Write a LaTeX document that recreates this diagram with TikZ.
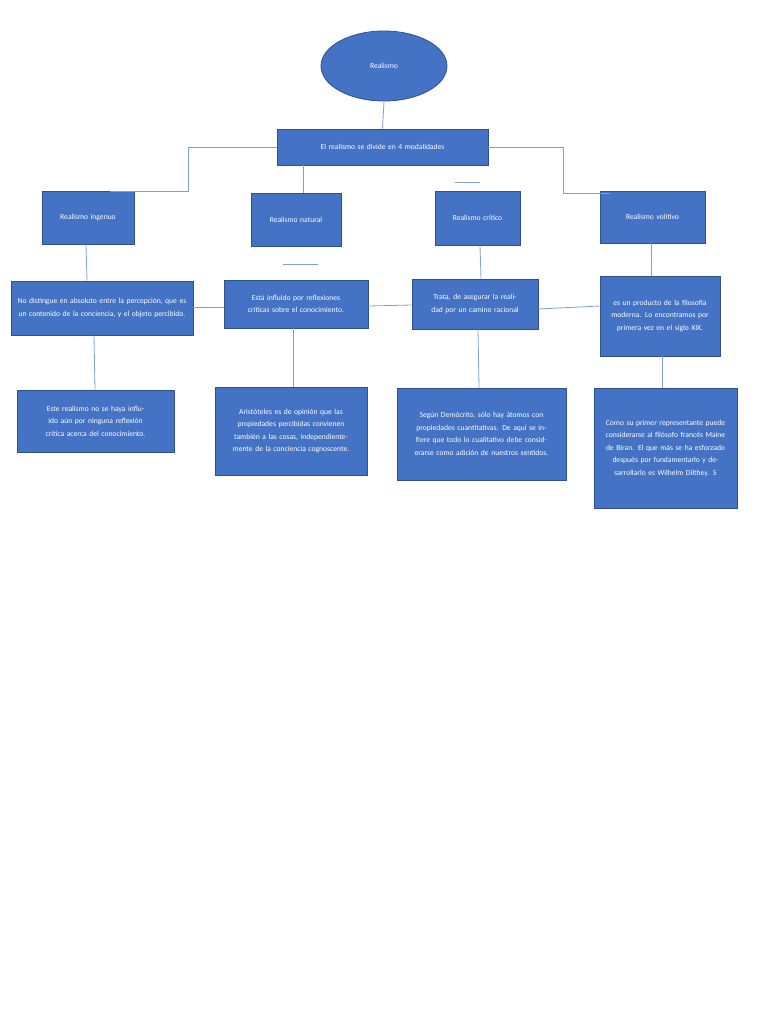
\documentclass[tikz,border=0pt]{standalone}
\usepackage{fontspec}
\setmainfont{Carlito}
\usetikzlibrary{shapes.geometric}
\definecolor{bfill}{HTML}{4472C4}
\definecolor{bdraw}{HTML}{2F528F}
\definecolor{lcol}{HTML}{7F9FD6}
\begin{document}
\begin{tikzpicture}[x=1pt,y=-1pt,
 bx/.style={draw=bdraw,fill=bfill,line width=0.8pt,text=white,font=\fontsize{7.6}{12.5}\selectfont,align=center,inner sep=2pt},
 ln/.style={draw=lcol,line width=0.8pt}]
\useasboundingbox (0,0) rectangle (768,1024);
\fill[white] (0,0) rectangle (768,1024);
\node[bx,ellipse,minimum width=126pt,minimum height=70pt] (root) at (384,66) {Realismo};
\newcommand\bb[6]{\pgfmathsetmacro\bbw{#4-#2}\pgfmathsetmacro\bbh{#5-#3}\pgfmathsetmacro\bbt{#4-#2-10}%
\node[bx,minimum width=\bbw pt,minimum height=\bbh pt,text width=\bbt pt] (#1) at ({(#2+#4)/2},{(#3+#5)/2}) {#6};}
\bb{top}{277}{129}{488}{165}{El realismo se divide en 4 modalidades}
\bb{a1}{42}{191}{134}{244}{Realismo ingenuo}
\bb{b1}{251}{193}{341}{246}{Realismo natural}
\bb{c1}{435}{191}{520}{245}{Realismo crítico}
\bb{d1}{600}{191}{705}{243}{Realismo volitivo}
\bb{a2}{11}{281}{193}{335}{No distingue en absoluto entre la percepción, que es un contenido de la conciencia, y el objeto percibido.}
\bb{b2}{224}{280}{368}{328}{Está influido por reflexiones críticas sobre el conocimiento.}
\bb{c2}{412}{279}{538}{329}{Trata, de asegurar la realidad por un camino racional}
\bb{d2}{600}{276}{720}{356}{es un producto de la filosofía moderna. Lo encontramos por primera vez en el siglo XIX.}
\bb{a3}{17}{390}{174}{452}{Este realismo no se haya influido aún por ninguna reflexión crítica acerca del conocimiento.}
\bb{b3}{215}{387}{367}{475}{Aristóteles es de opinión que las propiedades percibidas convienen también a las cosas, independientemente de la conciencia cognoscente.}
\bb{c3}{397}{388}{566}{480}{Según Demócrito, sólo hay átomos con propiedades cuantitativas. De aquí se infiere que todo lo cualitativo debe considerarse como adición de nuestros sentidos.}
\bb{d3}{594}{388}{737}{508}{Como su primer representante puede considerarse al filósofo francés Maine de Biran. El que más se ha esforzado después por fundamentarlo y desarrollarlo es Wilhelm Dilthey. S}
\coordinate (tl) at (110,191);
\coordinate (tr) at (610,193);
\draw[ln] (root.south) -- (top.north);
\draw[ln] (top.west) -- (188,147) -- (188,191) -- (tl);
\draw[ln] (top.east) -- (563,147) -- (563,193) -- (tr);
\draw[ln] (303,165) -- (b1.north-|303,0);
\draw[ln] (455,182) -- (480,182);
\draw[ln] (283,264) -- (318,264);
\draw[ln] (a1.south-|86,0) -- (a2.north-|87,0);
\draw[ln] (c1.south-|480,0) -- (c2.north-|481,0);
\draw[ln] (d1.south-|651,0) -- (d2.north-|651,0);
\draw[ln] (a2.east|-0,307) -- (b2.west|-0,307);
\draw[ln] (b2.east|-0,306) -- (c2.west|-0,305);
\draw[ln] (c2.east|-0,309) -- (d2.west|-0,306);
\draw[ln] (a2.south-|94,0) -- (a3.north-|95,0);
\draw[ln] (b2.south-|293,0) -- (b3.north-|293,0);
\draw[ln] (c2.south-|478,0) -- (c3.north-|479,0);
\draw[ln] (d2.south-|662,0) -- (d3.north-|662,0);
\end{tikzpicture}
\end{document}
